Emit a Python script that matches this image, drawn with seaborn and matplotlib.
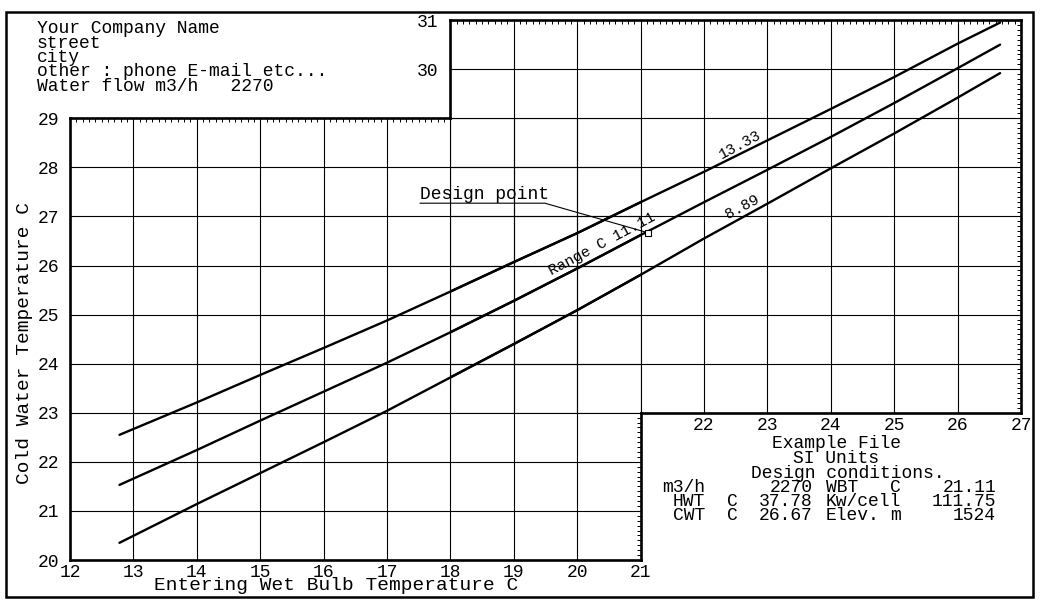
import matplotlib
matplotlib.use("Agg")
import pandas as pd
import matplotlib.pyplot as plt
from matplotlib.patches import Polygon, Rectangle
from matplotlib.ticker import MultipleLocator
import seaborn as sns

# Data
wbt = [12.78, 14, 15, 16, 17, 18, 19, 20, 21, 22, 23, 24, 25, 26, 26.67]
cwt_r1333 = [22.55, 23.21, 23.77, 24.32, 24.88, 25.47, 26.07, 26.66, 27.29,
             27.91, 28.55, 29.19, 29.84, 30.52, 30.95]
cwt_r1111 = [21.53, 22.24, 22.84, 23.43, 24.02, 24.64, 25.28, 25.94, 26.62,
             27.29, 27.95, 28.62, 29.31, 30.02, 30.50]
cwt_r889 = [20.35, 21.14, 21.77, 22.40, 23.04, 23.72, 24.40, 25.09, 25.81,
            26.55, 27.26, 27.98, 28.69, 29.42, 29.92]
range_names = ["13.33", "11.11", "8.89"]

design_wbt = 21.11
design_cwt = 26.67

x_ticks_low = list(range(12, 22))
y_ticks_low = list(range(20, 30))
x_ticks_high = list(range(18, 28))
y_ticks_high = list(range(23, 32))

company_lines = ["Your Company Name", "street", "city",
                 "other : phone E-mail etc...", "Water flow m3/h   2270"]
cond_titles = ["Example File", "SI Units", "Design conditions."]
cond_left = ["m3/h", "HWT", "CWT"]
cond_left_unit = ["", "C", "C"]
cond_left_val = ["2270", "37.78", "26.67"]
cond_right = ["WBT", "Kw/cell", "Elev."]
cond_right_unit = ["C", "", "m"]
cond_right_val = ["21.11", "111.75", "1524"]

df = pd.concat([
    pd.DataFrame({"wbt": wbt, "cwt": vals, "range": name})
    for name, vals in zip(range_names, [cwt_r1333, cwt_r1111, cwt_r889])
])

sns.set_theme(style="white", rc={"text.color": "black", "axes.labelcolor": "black",
                                 "xtick.color": "black", "ytick.color": "black"})
plt.rcParams["font.family"] = ["Liberation Mono", "DejaVu Sans Mono"]

W, H = 1040, 607
X0, SX = 70.0, 63.4     # pixel of x=12, px per degree
Y0, SY = 560.0, 49.08   # pixel (from top) of y=20, px per degree


def fig_rect(xlo, xhi, ylo, yhi):
    left = (X0 + (xlo - 12) * SX) / W
    bottom = (H - (Y0 - (ylo - 20) * SY)) / H
    return [left, bottom, (xhi - xlo) * SX / W, (yhi - ylo) * SY / H]


fig = plt.figure(figsize=(W / 100, H / 100), dpi=100)
fig.patch.set_facecolor("white")
ax1 = fig.add_axes(fig_rect(12, 21, 20, 29))
ax2 = fig.add_axes(fig_rect(18, 27, 23, 31))

limits = {ax1: ((12, 21), (20, 29)), ax2: ((18, 27), (23, 31))}

for ax in (ax1, ax2):
    ax.set_facecolor("none")
    sns.lineplot(data=df, x="wbt", y="cwt", hue="range", palette=["black"] * 3,
                 estimator=None, sort=False, legend=False, lw=1.7, ax=ax)
    (xl, yl) = limits[ax]
    ax.set_xlim(*xl)
    ax.set_ylim(*yl)
    ax.xaxis.set_minor_locator(MultipleLocator(0.1))
    ax.yaxis.set_minor_locator(MultipleLocator(0.1))
    ax.grid(True, which="major", color="black", lw=0.8)
    ax.tick_params(which="both", direction="in", top=True, right=True,
                   labelsize=13)
    ax.tick_params(which="major", length=0)
    ax.tick_params(which="minor", length=3, width=0.7)
    for sp in ax.spines.values():
        sp.set_linewidth(1.9)
        sp.set_color("black")
        sp.set_capstyle("projecting")
    ax.set_xlabel("")
    ax.set_ylabel("")

ax1.set_xticks(x_ticks_low, labels=[str(v) for v in x_ticks_low])
ax1.set_yticks(y_ticks_low, labels=[str(v) for v in y_ticks_low])
ax1.tick_params(axis="x", which="major", pad=3)
ax1.tick_params(axis="y", which="major", pad=8)
ax1.spines["top"].set_bounds(12, 18)
ax1.spines["right"].set_bounds(20, 23)

ax2.set_xticks(x_ticks_high, labels=[str(v) if v >= 22 else "" for v in x_ticks_high])
ax2.set_yticks(y_ticks_high, labels=[str(v) if v >= 30 else "" for v in y_ticks_high])
ax2.tick_params(axis="x", which="major", pad=3)
ax2.tick_params(axis="y", which="major", pad=9)
ax2.spines["left"].set_bounds(29, 31)
ax2.spines["bottom"].set_bounds(21, 27)

ax1.set_xlabel("Entering Wet Bulb Temperature C", fontsize=14)
ax1.xaxis.set_label_coords(0.466, -0.038)
ax1.set_ylabel("Cold Water Temperature C", fontsize=14)
ax1.yaxis.set_label_coords(-0.064, 0.492)

# design point with leader
ax2.plot([design_wbt], [design_cwt], marker="s", ms=5, mfc="white", mec="black",
         mew=0.8, ls="none", zorder=5)
ax2.annotate("Design point", xy=(design_wbt, design_cwt), xytext=(17.52, 27.27),
             textcoords="data", ha="left", va="bottom", fontsize=13,
             annotation_clip=False,
             arrowprops=dict(arrowstyle="-", lw=0.8, color="black", relpos=(0, 0),
                             patchA=None, shrinkA=0, shrinkB=2,
                             connectionstyle="angle,angleA=0,angleB=-16"))

# range labels along the curves
ax2.text(22.3, 28.12, range_names[0], rotation=28, rotation_mode="anchor",
         ha="left", va="bottom", fontsize=11)
ax2.text(19.62, 25.74, "Range C " + range_names[1], rotation=28,
         rotation_mode="anchor", ha="left", va="bottom", fontsize=11)
ax2.text(22.4, 26.9, range_names[2], rotation=28, rotation_mode="anchor",
         ha="left", va="bottom", fontsize=11)

# header block
for i, line in enumerate(company_lines):
    fig.text(37 / W, 1 - (28.5 + 14.5 * i) / H, line, ha="left", va="center",
             fontsize=13)

# design conditions block
for (xc, yc), t in zip([(836, 444), (836, 458.5), (848, 473)], cond_titles):
    fig.text(xc / W, 1 - yc / H, t, ha="center", va="center", fontsize=13)
left_x = [662, 673, 673]
for i in range(3):
    yc = 1 - (487 + 14 * i) / H
    fig.text(left_x[i] / W, yc, cond_left[i], ha="left", va="center", fontsize=13)
    fig.text(727 / W, yc, cond_left_unit[i], ha="left", va="center", fontsize=13)
    fig.text(813 / W, yc, cond_left_val[i], ha="right", va="center", fontsize=13)
    fig.text(826 / W, yc, cond_right[i], ha="left", va="center", fontsize=13)
    fig.text(890 / W, yc, cond_right_unit[i], ha="left", va="center", fontsize=13)
    fig.text(996 / W, yc, cond_right_val[i], ha="right", va="center", fontsize=13)

# outer frame
fig.add_artist(Rectangle((6 / W, 1 - 597 / H), 1027 / W, 585 / H,
                         transform=fig.transFigure, fill=False, lw=1.8,
                         ec="black"))

# keep the small ticks only on the outline of the combined plot area
fig.canvas.draw()
clip_shapes = {
    ax1: [(12, 20), (21, 20), (21, 23), (18, 23), (18, 29), (12, 29)],
    ax2: [(21, 23), (27, 23), (27, 31), (18, 31), (18, 29), (21, 29)],
}
for ax, verts in clip_shapes.items():
    poly = Polygon(verts, closed=True, transform=ax.transData)
    for axis in (ax.xaxis, ax.yaxis):
        for t in axis.get_major_ticks() + axis.get_minor_ticks():
            t.tick1line.set_clip_path(poly)
            t.tick2line.set_clip_path(poly)

fig.savefig("out.png", dpi=100, facecolor="white")
